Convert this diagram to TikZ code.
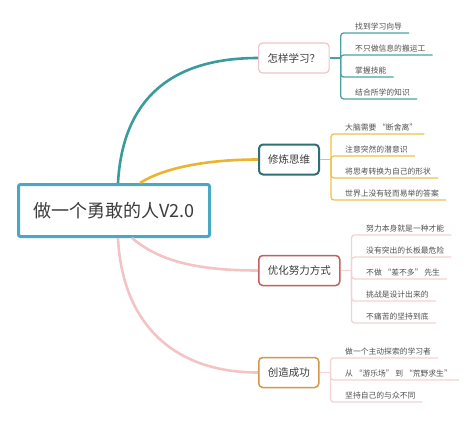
\documentclass[tikz,border=0pt]{standalone}
\usepackage{fontspec}
\setmainfont{Noto Sans CJK SC}
\definecolor{rootblue}{HTML}{4AA8C2}
\definecolor{tealline}{HTML}{3A9A9C}
\definecolor{yellowline}{HTML}{EAB42C}
\definecolor{pinkline}{HTML}{F2C4C4}
\definecolor{pinkbox}{HTML}{F0C4C8}
\definecolor{tealbox}{HTML}{2E6F78}
\definecolor{redbox}{HTML}{C2605E}
\definecolor{orangebox}{HTML}{D49648}
\definecolor{tealleaf}{HTML}{4AA3A3}
\definecolor{yellowleaf}{HTML}{ECC24A}
\definecolor{pinkleaf}{HTML}{F3D2D2}
\definecolor{textgray}{HTML}{3C3C3C}
\definecolor{leafgray}{HTML}{505050}
\begin{document}
\begin{tikzpicture}[
  x=1pt, y=-1pt,
  rootbox/.style={
    draw=rootblue,
    line width=3pt,
    rounded corners=2pt,
    fill=white,
    minimum width=191pt,
    minimum height=52pt,
    text=textgray,
    font=\fontsize{18}{20}\selectfont
  },
  topicbox/.style={
    anchor=west,
    rounded corners=4pt,
    fill=white,
    inner xsep=9pt,
    minimum height=30pt,
    text=textgray,
    font=\fontsize{10.5}{12}\selectfont
  },
  leaf/.style={
    anchor=south west,
    inner xsep=0pt,
    inner ysep=2.5pt,
    text=leafgray,
    font=\fontsize{7.8}{9}\selectfont
  },
  branch/.style={line width=2.6pt},
  twig/.style={line width=1.3pt, rounded corners=3pt}
]
\useasboundingbox (0,0) rectangle (474,421);

\node[rootbox] (root) at (114,210.5) {做一个勇敢的人V2.0};

\node[topicbox, draw=pinkbox, line width=1.2pt] (learn) at (258,58) {怎样学习？};
\node[topicbox, draw=tealbox, line width=2pt] (think) at (258,159.5) {修炼思维};
\node[topicbox, draw=redbox, line width=1.5pt] (effort) at (258,270.5) {优化努力方式};
\node[topicbox, draw=orangebox, line width=1.5pt] (success) at (258,372.5) {创造成功};

\draw[branch, tealline] ([xshift=4pt]root.north) .. controls (122,110) and (160,58) .. (learn.west);
\draw[branch, yellowline] ([xshift=26pt]root.north) .. controls (160,170) and (200,159.5) .. (think.west);
\draw[branch, pinkline] ([xshift=18pt]root.south) .. controls (160,262) and (200,270.5) .. (effort.west);
\draw[branch, pinkline] ([xshift=4pt]root.south) .. controls (122,320) and (170,372.5) .. (success.west);

\node[leaf] (l11) at (355,33) {找到学习向导};
\node[leaf] (l12) at (355,55) {不只做信息的搬运工};
\node[leaf] (l13) at (355,77) {掌握技能};
\node[leaf] (l14) at (355,99) {结合所学的知识};

\node[leaf] (l21) at (345,134) {大脑需要 “断舍离”};
\node[leaf] (l22) at (345,156) {注意突然的潜意识};
\node[leaf] (l23) at (345,178) {将思考转换为自己的形状};
\node[leaf] (l24) at (345,200) {世界上没有轻而易举的答案};

\node[leaf] (l31) at (366,235) {努力本身就是一种才能};
\node[leaf] (l32) at (366,257) {没有突出的长板最危险};
\node[leaf] (l33) at (366,279) {不做 “差不多” 先生};
\node[leaf] (l34) at (366,301) {挑战是设计出来的};
\node[leaf] (l35) at (366,323) {不痛苦的坚持到底};

\node[leaf] (l41) at (345,358) {做一个主动探索的学习者};
\node[leaf] (l42) at (345,380) {从 “游乐场” 到 “荒野求生”};
\node[leaf] (l43) at (345,402) {坚持自己的与众不同};

\draw[twig, tealleaf] (learn.east) -- ++(11,0) coordinate (j1);
\foreach \n in {l11,l12,l13,l14}
  \draw[twig, tealleaf] (j1) |- (\n.south west) -- ([xshift=7pt]\n.south east);

\draw[twig, yellowleaf] (think.east) -- ++(11,0) coordinate (j2);
\foreach \n in {l21,l22,l23,l24}
  \draw[twig, yellowleaf] (j2) |- (\n.south west) -- ([xshift=7pt]\n.south east);

\draw[twig, pinkleaf] (effort.east) -- ++(11,0) coordinate (j3);
\foreach \n in {l31,l32,l33,l34,l35}
  \draw[twig, pinkleaf] (j3) |- (\n.south west) -- ([xshift=7pt]\n.south east);

\draw[twig, pinkleaf] (success.east) -- ++(11,0) coordinate (j4);
\foreach \n in {l41,l42,l43}
  \draw[twig, pinkleaf] (j4) |- (\n.south west) -- ([xshift=7pt]\n.south east);
\end{tikzpicture}
\end{document}
